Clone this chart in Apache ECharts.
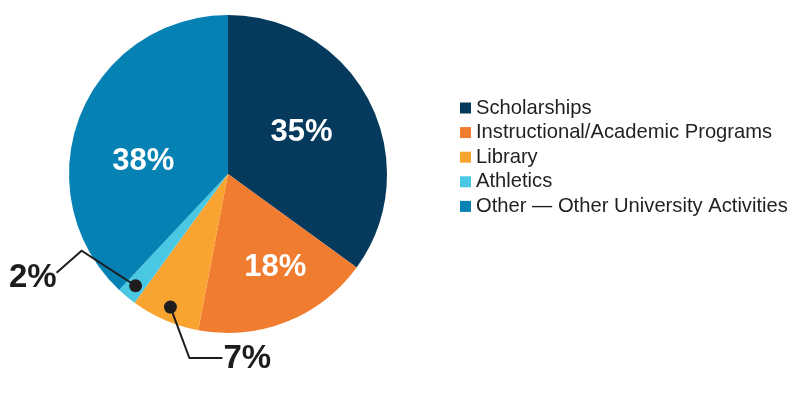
<!DOCTYPE html>
<html>
<head>
    <meta charset="utf-8" />
    <title>Spending distribution</title>
    <script src="https://cdn.jsdelivr.net/npm/echarts@6/dist/echarts.min.js"></script>
</head>
<body style="margin:0;padding:0;background:#ffffff;">
    <div id="main" style="width:800px;height:401px;"></div>
    <script type="text/javascript">
        // data
        var categories = ['Scholarships', 'Instructional/Academic Programs', 'Library', 'Athletics', 'Other \u2014 Other University Activities'];
        var shares = [35, 18, 7, 2, 38];
        var sliceColors = ['#063a5d', '#f07c30', '#f9a331', '#4ac8e3', '#0581b4'];

        // layout
        var pieCenter = [228, 174];
        var pieRadius = 159;
        var dotRadius = 145;
        var insideMin = 10;            // smaller slices get a leader line
        var labelFont = 'Liberation Sans, Arial, Helvetica, sans-serif';
        var inkColor = '#1f1c1d';
        // nudge for the inside labels (dx, dy from the default spot)
        var labelNudge = [[0, -4], [17, 17], [0, 0], [0, 0], [-8, 18]];
        // leader line shapes, relative to the dot
        var leaderGeom = {
            2: { bend: [19, 51], end: [52, 51], label: [53, 52], align: 'left' },
            3: { bend: [-54, -35], end: [-79, -13], label: [-79, -8], align: 'right' }
        };

        var chart = echarts.init(document.getElementById('main'));

        var mainData = [];
        var leaderData = [];
        var dotData = [];
        var total = 0;
        for (var i = 0; i < shares.length; i++) total += shares[i];
        var acc = 0;
        for (var i = 0; i < shares.length; i++) {
            var big = shares[i] >= insideMin;
            mainData.push({
                name: categories[i],
                value: shares[i],
                itemStyle: { color: sliceColors[i] },
                label: { show: big }
            });
            leaderData.push({
                name: categories[i],
                value: shares[i],
                label: { show: !big },
                labelLine: { show: !big }
            });
            if (!big) {
                dotData.push([dotRadius, (acc + shares[i] / 2) / total * 100]);
            }
            acc += shares[i];
        }

        var option = {
            backgroundColor: '#ffffff',
            animation: false,
            legend: {
                orient: 'vertical',
                left: 460,
                top: 98,
                padding: 0,
                icon: 'rect',
                itemWidth: 11,
                itemHeight: 11,
                itemGap: 4.6,
                selectedMode: false,
                textStyle: {
                    fontFamily: labelFont,
                    fontSize: 20.2,
                    lineHeight: 20,
                    color: '#231f20'
                },
                data: categories
            },
            polar: {
                center: pieCenter,
                radius: pieRadius
            },
            angleAxis: {
                type: 'value',
                min: 0,
                max: 100,
                startAngle: 90,
                clockwise: true,
                show: false
            },
            radiusAxis: {
                type: 'value',
                min: 0,
                max: pieRadius,
                show: false
            },
            series: [
                {
                    name: 'share',
                    type: 'pie',
                    center: pieCenter,
                    radius: pieRadius,
                    startAngle: 90,
                    clockwise: true,
                    avoidLabelOverlap: false,
                    silent: true,
                    itemStyle: { borderWidth: 0 },
                    label: {
                        position: 'inside',
                        formatter: '{c}%',
                        color: '#ffffff',
                        fontFamily: labelFont,
                        fontWeight: 'bold',
                        fontSize: 31
                    },
                    labelLine: { show: false },
                    labelLayout: function (p) {
                        var o = labelNudge[p.dataIndex];
                        return { dx: o[0], dy: o[1] };
                    },
                    data: mainData
                },
                {
                    name: 'leaders',
                    type: 'pie',
                    z: 4,
                    center: pieCenter,
                    radius: dotRadius,
                    startAngle: 90,
                    clockwise: true,
                    avoidLabelOverlap: false,
                    silent: true,
                    itemStyle: { color: 'rgba(0,0,0,0)', borderWidth: 0 },
                    label: {
                        position: 'outside',
                        formatter: '{c}%',
                        color: inkColor,
                        fontFamily: labelFont,
                        fontWeight: 'bold',
                        fontSize: 33
                    },
                    labelLine: {
                        lineStyle: { color: inkColor, width: 2 }
                    },
                    labelLayout: function (p) {
                        var g = leaderGeom[p.dataIndex];
                        if (!g || !p.labelLinePoints) return {};
                        var s = p.labelLinePoints[0];
                        return {
                            x: s[0] + g.label[0],
                            y: s[1] + g.label[1],
                            align: g.align,
                            verticalAlign: 'middle',
                            labelLinePoints: [
                                [s[0], s[1]],
                                [s[0] + g.bend[0], s[1] + g.bend[1]],
                                [s[0] + g.end[0], s[1] + g.end[1]]
                            ]
                        };
                    },
                    data: leaderData
                },
                {
                    name: 'dots',
                    type: 'scatter',
                    coordinateSystem: 'polar',
                    symbol: 'circle',
                    symbolSize: 13,
                    silent: true,
                    itemStyle: { color: inkColor, opacity: 1 },
                    z: 6,
                    data: dotData
                }
            ]
        };
        chart.setOption(option);
    </script>
</body>
</html>
